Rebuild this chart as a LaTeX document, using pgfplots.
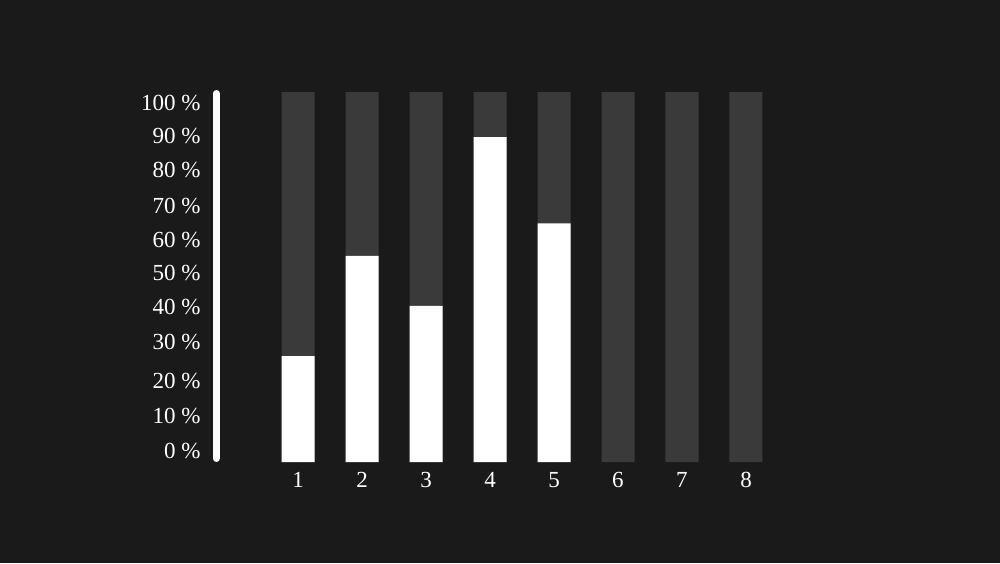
\documentclass[border=0pt]{standalone}
\usepackage{pgfplots}
\pgfplotsset{compat=1.18}
\usepackage{fontspec}
\setmainfont{Liberation Serif}
\definecolor{bg}{HTML}{1A1A1A}
\definecolor{barbg}{HTML}{3A3A3A}
\begin{document}
\begin{tikzpicture}
\useasboundingbox (0pt,0pt) rectangle (500pt,281.5pt);
\fill[bg] (0pt,0pt) rectangle (500pt,281.5pt);
\begin{axis}[
  at={(108pt,50.5pt)}, anchor=south west,
  scale only axis, width=297pt, height=185pt,
  xmin=-0.28125, xmax=9, ymin=0, ymax=100,
  clip=false,
  axis line style={draw=none},
  major tick length=0pt,
  xtick={1,2,3,4,5,6,7,8},
  xticklabels={1,2,3,4,5,6,7,8},
  ytick={3,12.3,21.9,32.4,41.9,51.1,60,69.2,78.8,88.1,97.0},
  yticklabels={0 \%,10 \%,20 \%,30 \%,40 \%,50 \%,60 \%,70 \%,80 \%,90 \%,100 \%},
  ticklabel style={text=white, font=\fontsize{11.5}{13}\selectfont},
  yticklabel style={anchor=east, inner sep=0pt, xshift=-7.5pt},
  xticklabel style={anchor=north, inner sep=0pt, yshift=-5pt},
  ybar, bar width=16.5pt,
]
\addplot[fill=barbg, draw=none, bar shift=0pt] coordinates {(1,100) (2,100) (3,100) (4,100) (5,100) (6,100) (7,100) (8,100)};
\addplot[fill=white, draw=none, bar shift=0pt] coordinates {(1,28.6) (2,55.7) (3,42.2) (4,87.8) (5,64.5)};
\draw[white, line width=3.5pt, line cap=round] (axis cs:-0.28125,0.95) -- (axis cs:-0.28125,99.6);
\end{axis}
\end{tikzpicture}
\end{document}
